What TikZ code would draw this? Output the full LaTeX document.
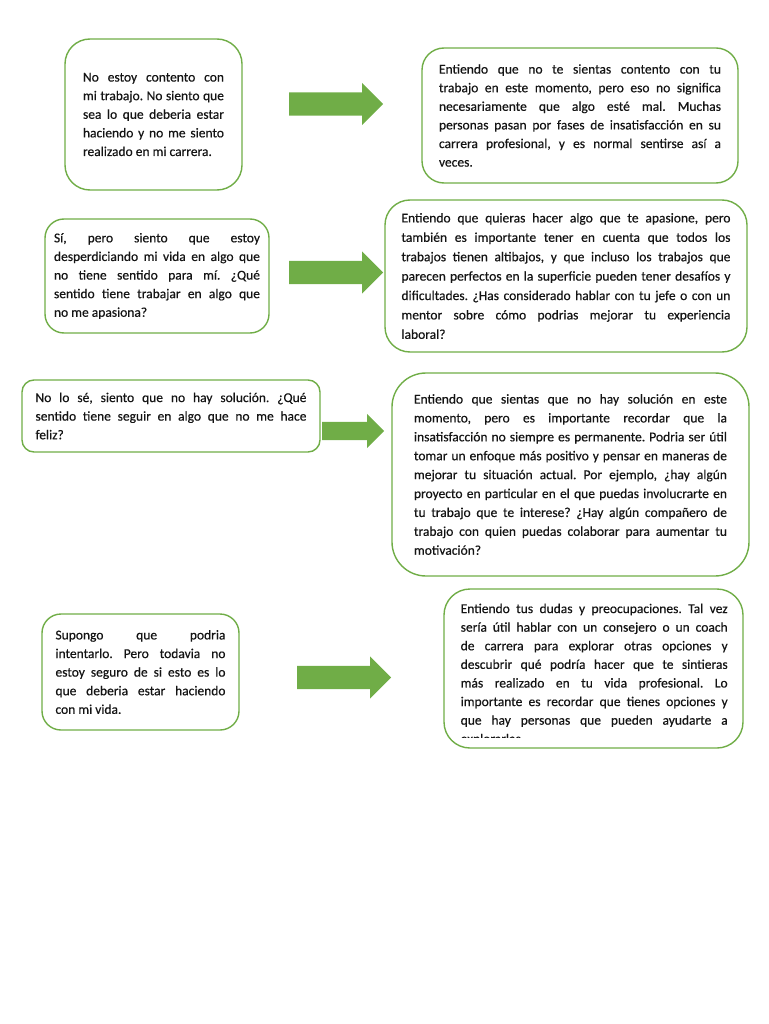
\documentclass[tikz,border=0pt]{standalone}
\usepackage{fontspec}
\setmainfont{Carlito}
\newfontfamily\bubblefont{Carlito}[FakeBold=0.45]
\usetikzlibrary{shapes.arrows}
\definecolor{leaf}{HTML}{70AD47}
\frenchspacing

\begin{document}
\begin{tikzpicture}[x=1pt,y=-1pt,
 bubble/.style={draw=leaf,line width=1.4pt,align=justify,inner sep=0pt,text=black!92,
   font=\bubblefont\fontsize{13.5}{18.6}\selectfont},
 turn/.style={single arrow,fill=leaf,anchor=tail,inner xsep=0pt,inner ysep=11.5pt,
   single arrow head extend=9.5pt,minimum height=94pt}]
\useasboundingbox (0,0) rectangle (768,1024);
% row 1
\node[bubble,text width=141pt,minimum width=177pt,minimum height=151pt,rounded corners=25pt] (q1) at (153.5,114.5)
 {No estoy contento con\linebreak mi trabajo. No siento que\linebreak sea lo que deberia estar\linebreak haciendo y no me siento\linebreak realizado en mi carrera.};
\node[bubble,text width=282pt,minimum width=316pt,minimum height=135pt,rounded corners=22pt] (a1) at (580,115.5)
 {Entiendo que no te sientas contento con tu\linebreak trabajo en este momento, pero eso no significa\linebreak necesariamente que algo esté mal. Muchas\linebreak personas pasan por fases de insatisfacción en su\linebreak carrera profesional, y es normal sentirse así a\linebreak veces.};
\node[turn] (p1) at (289,104) {};
% row 2
\node[bubble,text width=206pt,minimum width=224pt,minimum height=114pt,rounded corners=19pt] (q2) at (157,276)
 {Sí, pero siento que estoy\linebreak desperdiciando mi vida en algo que\linebreak no tiene sentido para mí. ¿Qué\linebreak sentido tiene trabajar en algo que\linebreak no me apasiona?};
\node[bubble,text width=329pt,minimum width=362pt,minimum height=152pt,rounded corners=25pt,
   font=\bubblefont\fontsize{13.5}{19.4}\selectfont] (a2) at (566,276)
 {Entiendo que quieras hacer algo que te apasione, pero\linebreak también es importante tener en cuenta que todos los\linebreak trabajos tienen altibajos, y que incluso los trabajos que\linebreak parecen perfectos en la superficie pueden tener desafíos y\linebreak dificultades. ¿Has considerado hablar con tu jefe o con un\linebreak mentor sobre cómo podrias mejorar tu experiencia\linebreak laboral?};
\node[turn] (p2) at (289,272.5) {};
% row 3
\node[bubble,text width=271pt,minimum width=298pt,minimum height=72pt,rounded corners=12pt] (q3) at (171,416)
 {No lo sé, siento que no hay solución. ¿Qué\linebreak sentido tiene seguir en algo que no me hace\linebreak feliz?};
\node[bubble,text width=313pt,minimum width=357pt,minimum height=203pt,rounded corners=34pt,
   font=\bubblefont\fontsize{13.5}{18.9}\selectfont] (a3) at (570.5,474.5)
 {Entiendo que sientas que no hay solución en este\linebreak momento, pero es importante recordar que la\linebreak insatisfacción no siempre es permanente. Podria ser útil\linebreak tomar un enfoque más positivo y pensar en maneras de\linebreak mejorar tu situación actual. Por ejemplo, ¿hay algún\linebreak proyecto en particular en el que puedas involucrarte en\linebreak tu trabajo que te interese? ¿Hay algún compañero de\linebreak trabajo con quien puedas colaborar para aumentar tu\linebreak motivación?};
\node[turn,inner ysep=9pt,minimum height=62pt,single arrow head extend=8pt] (p3) at (322,431) {};
% row 4
\node[bubble,text width=170pt,minimum width=197pt,minimum height=116pt,rounded corners=19pt] (q4) at (140.5,672)
 {Supongo que podria\linebreak intentarlo. Pero todavia no\linebreak estoy seguro de si esto es lo\linebreak que deberia estar haciendo\linebreak con mi vida.};
\node[bubble,minimum width=299pt,minimum height=159pt,rounded corners=26pt] (a4) at (593.5,668.5) {};
\begin{scope}
\clip (444,589) rectangle (743,737);
\node[bubble,draw=none,text width=267pt,anchor=north west] (a4text) at (460,603)
 {Entiendo tus dudas y preocupaciones. Tal vez\linebreak sería útil hablar con un consejero o un coach\linebreak de carrera para explorar otras opciones y\linebreak descubrir qué podría hacer que te sintieras\linebreak más realizado en tu vida profesional. Lo\linebreak importante es recordar que tienes opciones y\linebreak que hay personas que pueden ayudarte a\linebreak explorarlas.};
\end{scope}
\node[turn] (p4) at (297,677.5) {};
\end{tikzpicture}
\end{document}
